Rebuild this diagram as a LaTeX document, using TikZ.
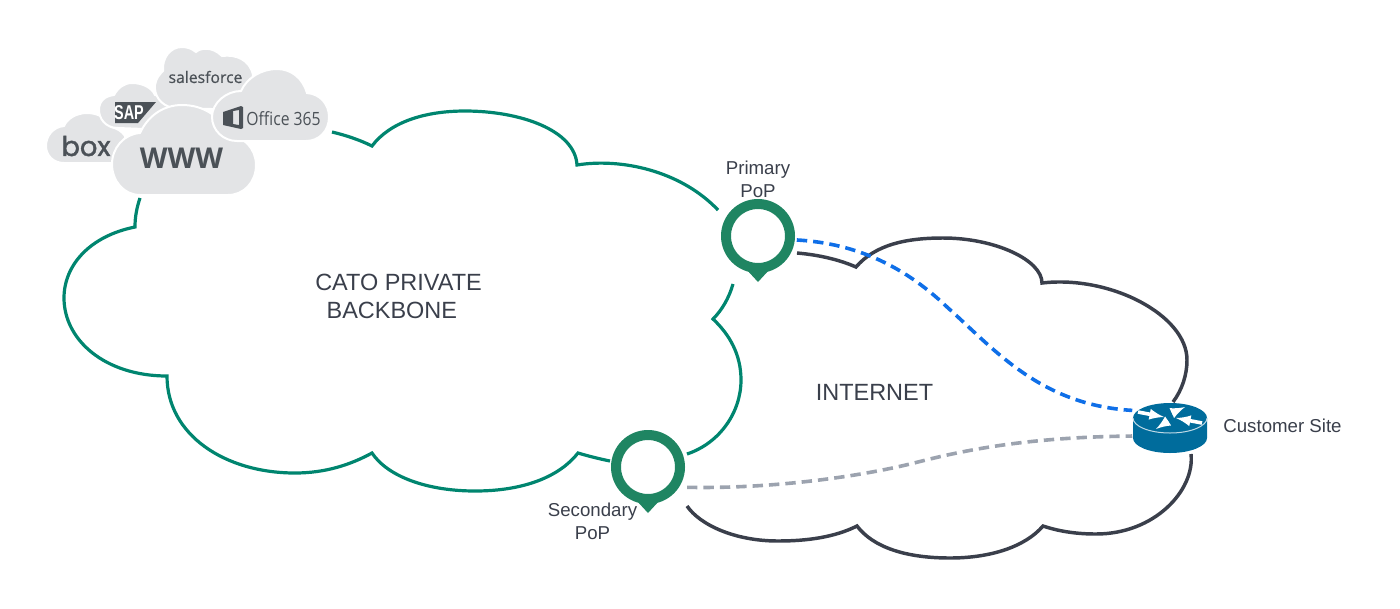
\documentclass[tikz,border=0pt]{standalone}
\usepackage{fontspec}
\setmainfont{Liberation Sans}
\newfontfamily\logofont{Open Sans}
\newfontfamily\sffont[FakeBold=0.6]{Open Sans}
\newfontfamily\officefont[FakeStretch=0.86]{Open Sans}
\newfontfamily\sapfont[FakeStretch=0.72]{Liberation Sans}
\newfontfamily\boxfont[FakeBold=1.6]{Poppins}
\usepackage{xcolor}
\usepackage{tikz}
\definecolor{C0}{HTML}{00856F}
\definecolor{C1}{HTML}{3A3F4B}
\definecolor{C2}{HTML}{1F8562}
\definecolor{C3}{HTML}{0F6FE8}
\definecolor{C4}{HTML}{9CA3AF}
\definecolor{C5}{HTML}{006C9C}
\definecolor{C6}{HTML}{E3E4E6}
\definecolor{C7}{HTML}{4B5157}
\tikzstyle{pop} = [draw=C2, circle, fill=white, line width=7.5pt, minimum size=48pt, inner sep=0pt]
\tikzstyle{site} = [minimum width=56.25pt, minimum height=37.5pt, inner sep=0pt]
\tikzstyle{txt} = [text=C1, align=center, inner sep=0pt]
\tikzstyle{small} = [txt, font=\fontsize{14}{17.25}\selectfont]
\tikzstyle{big} = [txt, font=\fontsize{17.6}{21}\selectfont]
\tikzstyle{logocloud} = [fill=C6, draw=white, line width=1.5pt]
\tikzstyle{logotxt} = [text=C7, inner sep=0pt]
\tikzstyle{backbone} = [draw=C0, line width=2.4pt]
\tikzstyle{inet} = [draw=C1, line width=2.6pt]
\tikzstyle{tunnel} = [line width=2.7pt, dash pattern=on 7.8pt off 4.5pt]

\begin{document}
\begin{tikzpicture}[x=0.75pt, y=-0.75pt]
	\useasboundingbox (0,0) rectangle (1400,608);

	% backbone cloud
	\draw[backbone] (140,198) .. controls (137,207) and (135,216) .. (135,227)
		.. controls (90,236) and (64,265) .. (64,298)
		.. controls (64,340) and (105,376) .. (167,376)
		.. controls (167,435) and (225,473) .. (295,473)
		.. controls (325,473) and (350,465) .. (372,453)
		.. controls (388,477) and (428,491) .. (475,491)
		.. controls (525,491) and (560,476) .. (578,453)
		.. controls (588,456) and (600,459) .. (610,461) ;
	\draw[backbone] (687,454) .. controls (720,443) and (741,412) .. (741,380)
		.. controls (741,355) and (730,335) .. (713,319)
		.. controls (722,310) and (729,298) .. (733,284) ;
	\draw[backbone] (718,210) .. controls (680,170) and (620,158) .. (577,165)
		.. controls (575,130) and (520,111) .. (465,111)
		.. controls (425,111) and (390,122) .. (372,146)
		.. controls (360,140) and (345,135) .. (332,132) ;

	% internet cloud
	\draw[inet] (797,253) .. controls (820,255) and (840,260) .. (856,267)
		.. controls (875,245) and (905,238) .. (943,238)
		.. controls (995,238) and (1042,260) .. (1042,283)
		.. controls (1110,275) and (1187,315) .. (1187,360)
		.. controls (1187,375) and (1182,390) .. (1173,402) ;
	\draw[inet] (1191,454) .. controls (1195,490) and (1155,534) .. (1096,534)
		.. controls (1075,534) and (1058,531) .. (1043,526)
		.. controls (1025,547) and (990,558) .. (950,558)
		.. controls (905,558) and (873,547) .. (857,526)
		.. controls (835,537) and (808,541) .. (778,541)
		.. controls (735,541) and (700,525) .. (687,506) ;

	% small clouds
	\draw[logocloud] (64,163) .. controls (53,163) and (46,155) .. (46,146)
		.. controls (46,136) and (53,127) .. (64,126)
		.. controls (67,119) and (76,113) .. (87,113)
		.. controls (100,113) and (108,120) .. (111,127)
		.. controls (116,128) and (122,131) .. (125,136) -- (125,163) -- cycle ;
	\draw[logocloud] (118,128) .. controls (105,128) and (99,118) .. (99,110)
		.. controls (99,101) and (105,96) .. (114,95)
		.. controls (118,88) and (124,83) .. (132,83)
		.. controls (143,83) and (152,88) .. (155,95)
		.. controls (162,96) and (167,100) .. (171,106) -- (170,130) -- cycle ;
	\draw[logocloud] (173,108) .. controls (160,105) and (154,95) .. (155,85)
		.. controls (156,78) and (160,74) .. (163,71)
		.. controls (162,58) and (170,47) .. (182,47)
		.. controls (188,47) and (192,49) .. (196,52)
		.. controls (200,48) and (212,46) .. (222,56)
		.. controls (236,54) and (250,60) .. (253,75) -- (250,110) -- cycle ;
	\draw[logocloud] (140,195) .. controls (124,195) and (112,181) .. (112,164)
		.. controls (112,148) and (124,134) .. (140,133)
		.. controls (148,116) and (163,105) .. (182,105)
		.. controls (204,105) and (221,117) .. (227,134)
		.. controls (244,136) and (256,149) .. (256,165)
		.. controls (256,182) and (244,195) .. (228,195) -- cycle ;
	\draw[logocloud] (237,141) .. controls (223,141) and (212,130) .. (212,117)
		.. controls (212,103) and (226,91) .. (241,91)
		.. controls (247,78) and (261,69) .. (277,69)
		.. controls (292,69) and (303,79) .. (307,93)
		.. controls (320,94) and (329,104) .. (329,117)
		.. controls (329,131) and (319,141) .. (306,141) -- cycle ;

	% logos
	\node[logotxt, font=\boxfont\fontsize{20.5}{20.5}\selectfont] (box) at (86,146) {box} ;
	\fill[C7] (115,102) -- (156,102) -- (138,123) -- (115,123) -- cycle ;
	\node[text=white, inner sep=0pt, font=\sapfont\bfseries\fontsize{15}{15}\selectfont] (sap) at (129,112.5) {SAP} ;
	\node[logotxt, font=\sffont\fontsize{11.8}{11.8}\selectfont] (sf) at (205.5,77) {salesforce} ;
	\fill[C7, even odd rule] (223,112) -- (241,106) -- (243,107) -- (243,128) -- (241,129) -- (223,125) -- cycle
		(233,111) -- (239,110) -- (239,125) -- (233,124) -- cycle ;
	\node[logotxt, font=\officefont\fontsize{13.7}{13.7}\selectfont] (off) at (283.5,119) {Office 365} ;
	\node[logotxt, font=\logofont\bfseries\fontsize{21.5}{21.5}\selectfont] (www) at (181.5,158.5) {WWW} ;

	% router
	\node[site] (router) at (1170,428) {} ;
	\fill[C5] (1133,418) -- (1133,438) arc[start angle=180, end angle=0, x radius=37, y radius=15] -- (1207,418) -- cycle ;
	\fill[C5] (1170,418) ellipse[x radius=37, y radius=15] ;
	\draw[white!75!C5, line width=0.75pt] (1133,418) arc[start angle=180, end angle=0, x radius=37, y radius=15] ;
	\foreach \xa/\ya/\xb/\yb in {1138/412/1164/417, 1172/413/1185/407, 1202/423/1176/418, 1168/421/1156/429}
	{
		\draw[white, line width=2.7pt, -latex] (\xa,\ya) -- (\xb,\yb) ;
	}

	% pops
	\foreach \p/\x/\y in {PP/758/236, SP/648/467}
	{
		\fill[C2] ({\x-12},{\y+33}) -- (\x,{\y+46}) -- ({\x+12},{\y+33}) -- cycle ;
		\node[pop] (\p) at (\x,\y) {} ;
	}

	\draw[tunnel, C3, shorten <=1.5pt] (PP.-6) .. controls (850,243) and (900,262) .. (947,307)
		.. controls (994,349) and (1040,405) .. (router.155.6) ;
	\draw[tunnel, C4, shorten <=6pt] (SP.-33) .. controls (770,489) and (860,477) .. (918,462)
		.. controls (976,447) and (1040,437) .. (router.192) ;

	% labels
	\node[small] (lblP) at (758,179.5) {Primary\\PoP} ;
	\node[small] (lblS) at (592.5,521.5) {Secondary\\PoP} ;
	\node[small] (lblC) at (1282.5,426) {Customer Site} ;
	\node[big] (lblB) at (398.5,296) {CATO PRIVATE\\BACKBONE\hspace*{10pt}} ;
	\node[big] (lblI) at (874.5,392) {INTERNET} ;
\end{tikzpicture}
\end{document}
